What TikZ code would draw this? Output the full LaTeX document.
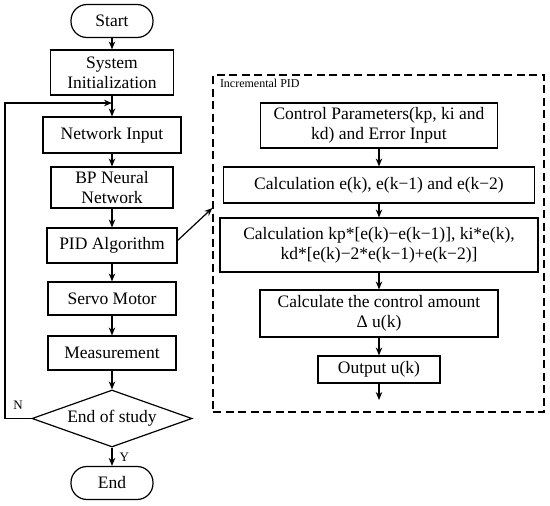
\documentclass[tikz,border=0pt]{standalone}
\usepackage{fontspec}
\setmainfont{Liberation Serif}
\usepackage{tikz}
\usetikzlibrary{positioning, arrows.meta, shapes.geometric}

\begin{document}
\begin{tikzpicture}[
    x=1pt, y=-1pt,
    line width=1.2pt,
    every node/.style={draw, align=center, inner sep=1pt, font=\fontsize{17.5pt}{20pt}\selectfont},
    term/.style={rectangle, rounded corners=16pt, minimum width=82pt, minimum height=33pt},
    decision/.style={diamond, aspect=2.8, minimum width=160pt, minimum height=57pt},
    arrow/.style={-{Stealth[length=8pt, width=6.5pt]}, >=stealth}
]
    \useasboundingbox (0,0) rectangle (550,506);

    % Nodes
    \node[term] (start) at (112,21) {Start};
    \node[minimum width=123pt, minimum height=45pt] (init) at (112,72.5) {System\\Initialization};
    \node[minimum width=138pt, minimum height=36pt] (netin) at (112,135) {Network Input};
    \node[minimum width=122pt, minimum height=41pt] (bpnn) at (112,187.5) {BP Neural\\Network};
    \node[minimum width=130pt, minimum height=35pt] (pid) at (112,245.5) {PID Algorithm};
    \node[minimum width=128pt, minimum height=33pt] (servo) at (112,298.5) {Servo Motor};
    \node[minimum width=128pt, minimum height=34pt] (meas) at (112,353) {Measurement};
    \node[decision] (endq) at (112,418.5) {End of study};
    \node[term] (stop) at (112,483) {End};

    % Incremental PID block
    \node[dashed, dash pattern=on 8pt off 4.5pt, minimum width=331pt, minimum height=337pt] (incr) at (378.5,243.5) {};
    \node[draw=none, anchor=north west, font=\fontsize{12pt}{14pt}\selectfont] (incrlbl) at ([xshift=6pt, yshift=-3pt]incr.north west) {Incremental PID};
    \node[minimum width=237pt, minimum height=45pt] (cpar) at (379,125.5) {Control Parameters(kp, ki and\\kd) and Error Input};
    \node[minimum width=311pt, minimum height=36pt] (calce) at (379,185) {Calculation e(k), e(k−1) and e(k−2)};
    \node[minimum width=318pt, minimum height=54pt] (calck) at (379,245) {Calculation kp*[e(k)−e(k−1)], ki*e(k),\\kd*[e(k)−2*e(k−1)+e(k−2)]};
    \node[minimum width=238pt, minimum height=47pt] (camt) at (379,313.5) {Calculate the control amount\\Δ u(k)};
    \node[minimum width=122pt, minimum height=27pt] (outp) at (379,369.5) {Output u(k)};
    \coordinate (outend) at (379,400);

    % Loop coordinates
    \coordinate (join) at (112,103);
    \coordinate (loopc) at (5,418.5);

    % Arrows
    \draw[arrow] (start) -- (init);
    \draw[arrow] (init) -- (netin);
    \draw[arrow] (netin) -- (bpnn);
    \draw[arrow] (bpnn) -- (pid);
    \draw[arrow] (pid) -- (servo);
    \draw[arrow] (servo) -- (meas);
    \draw[arrow] (meas) -- (endq);
    \draw[arrow] (endq) -- (stop) node[midway, right, draw=none, font=\fontsize{13pt}{15pt}\selectfont, xshift=6pt] {Y};
    \draw[arrow] (endq.west) -- (loopc) |- (join);
    \node[draw=none, font=\fontsize{13pt}{15pt}\selectfont] (nlbl) at (18,405) {N};
    \draw[arrow] ([yshift=5pt]pid.east) -- ([yshift=35.5pt]incr.west);

    \draw[arrow] (cpar) -- (calce);
    \draw[arrow] (calce) -- (calck);
    \draw[arrow] (calck) -- (camt);
    \draw[arrow] (camt) -- (outp);
    \draw[arrow] (outp) -- (outend);
\end{tikzpicture}
\end{document}
